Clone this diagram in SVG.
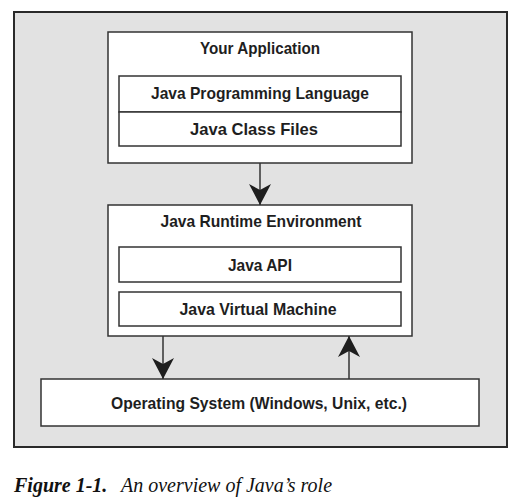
<svg xmlns="http://www.w3.org/2000/svg" width="520" height="500" viewBox="0 0 520 500">
<defs>
<style>
.bg{fill:#e2e2e2;stroke:#2a2a2a;stroke-width:2}
.box{fill:#ffffff;stroke:#333333;stroke-width:1.5}
.lbl{font-family:"Liberation Sans",Arial,sans-serif;font-weight:bold;font-size:17px;fill:#1e1e1e;text-anchor:middle}
.line{stroke:#333333;stroke-width:1.5;fill:none}
.cap{font-family:"Liberation Serif","Times New Roman",serif;font-size:20px;fill:#111111;font-style:italic}
</style>
<marker id="ah" viewBox="0 0 21 22" refX="21" refY="11" markerWidth="21" markerHeight="22" markerUnits="userSpaceOnUse" orient="auto">
<path d="M0,0 L21,11 L0,22 L6,11 Z" fill="#1e1e1e"/>
</marker>
</defs>
<rect x="14" y="12" width="493" height="435" class="bg"/>
<g id="app">
<rect x="108" y="32" width="304" height="131" class="box"/>
<text x="260" y="54" class="lbl" textLength="120" lengthAdjust="spacingAndGlyphs">Your Application</text>
</g>
<g id="jpl">
<rect x="119" y="76" width="282" height="36" class="box"/>
<text x="260" y="99" class="lbl" textLength="218" lengthAdjust="spacingAndGlyphs">Java Programming Language</text>
</g>
<g id="jcf">
<rect x="119" y="112" width="282" height="34" class="box"/>
<text x="254" y="135" class="lbl" textLength="128" lengthAdjust="spacingAndGlyphs">Java Class Files</text>
</g>
<g id="jre">
<rect x="108" y="205" width="304" height="131" class="box"/>
<text x="261" y="227" class="lbl" textLength="201" lengthAdjust="spacingAndGlyphs">Java Runtime Environment</text>
</g>
<g id="api">
<rect x="119" y="247" width="282" height="35" class="box"/>
<text x="260" y="271" class="lbl" textLength="64" lengthAdjust="spacingAndGlyphs">Java API</text>
</g>
<g id="jvm">
<rect x="119" y="292" width="282" height="34" class="box"/>
<text x="258" y="315" class="lbl" textLength="157" lengthAdjust="spacingAndGlyphs">Java Virtual Machine</text>
</g>
<g id="os">
<rect x="41" y="379" width="438" height="47" class="box"/>
<text x="259" y="409" class="lbl" textLength="296" lengthAdjust="spacingAndGlyphs">Operating System (Windows, Unix, etc.)</text>
</g>
<g id="connectors">
<line x1="260" y1="163" x2="260" y2="205" class="line" marker-end="url(#ah)"/>
<line x1="163" y1="336" x2="163" y2="379" class="line" marker-end="url(#ah)"/>
<line x1="349" y1="379" x2="349" y2="336" class="line" marker-end="url(#ah)"/>
</g>
<text x="14" y="492" class="cap"><tspan font-weight="bold">Figure 1-1.</tspan><tspan x="121">An overview of Java’s role</tspan></text>
</svg>
